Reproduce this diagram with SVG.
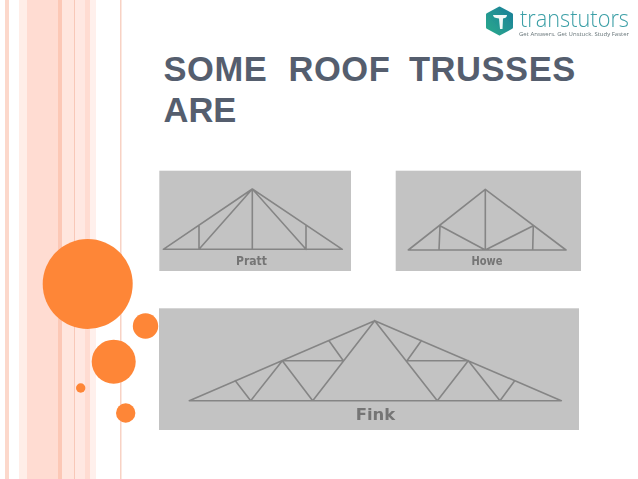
<svg xmlns="http://www.w3.org/2000/svg" width="638" height="479" viewBox="0 0 638 479">
<style>
.t{fill:none;stroke:#858585;stroke-width:1.6;stroke-linecap:round;stroke-linejoin:round}
.p{fill:#c3c3c3}
.l{font-family:"DejaVu Sans",sans-serif;font-weight:700;fill:#747474;text-anchor:middle}
.h{font-family:"Liberation Sans",Arial,sans-serif;font-weight:700;font-size:34.5px;fill:#555e6e}
.c{fill:#fe8637}
</style>
<defs>
<filter id="b" x="-5%" y="-5%" width="110%" height="110%"><feGaussianBlur stdDeviation="0.5"/></filter>
<filter id="s" x="-5%" y="-5%" width="110%" height="110%"><feGaussianBlur stdDeviation="0.35"/></filter>
<linearGradient id="g" x1="0" y1="1" x2="1" y2="0"><stop offset="0" stop-color="#2aa98c"/><stop offset="1" stop-color="#1b7f99"/></linearGradient>
</defs>
<rect width="638" height="479" fill="#fff"/>
<g id="stripes">
<rect x="5" width="4" height="479" fill="#fcd8cb"/>
<rect x="19" width="8" height="479" fill="#ffeee8"/>
<rect x="27" width="31" height="479" fill="#ffdcd2"/>
<rect x="58" width="4" height="479" fill="#fcc8b6"/>
<rect x="62" width="12" height="479" fill="#ffe6de"/>
<rect x="74" width="1.2" height="479" fill="#f8c8b8"/>
<rect x="75" width="10" height="479" fill="#ffe8e2"/>
<rect x="85" width="5" height="479" fill="#ffdcd2"/>
<rect x="90" width="6" height="479" fill="#fff0ec"/>
<rect x="120" width="1.5" height="479" fill="#f8d2c4"/>
</g>
<g id="circles">
<circle class="c" cx="87.7" cy="284" r="45"/>
<circle class="c" cx="145.5" cy="326" r="12.7"/>
<circle class="c" cx="113.7" cy="361.7" r="22"/>
<circle class="c" cx="80.7" cy="388" r="4.7"/>
<circle class="c" cx="125.7" cy="413" r="9.7"/>
</g>
<g id="logo" filter="url(#s)">
<polygon points="499.5,8 511.5,14.500 511.5,27.500 499.5,34 487.5,27.500 487.5,14.500" fill="url(#g)" stroke="url(#g)" stroke-width="3" stroke-linejoin="round"/>
<path d="M493 15H507Q507 18 503 18.500L502.500 29H500L499 18.500Q493 18 493 15Z" fill="#f2f9f8"/>
<text x="520" y="27" font-family="Open Sans,sans-serif" font-size="23" font-weight="300" fill="#3b9fa6" textLength="109" lengthAdjust="spacingAndGlyphs">transtutors</text>
<text x="519" y="36" font-family="Open Sans,sans-serif" font-size="6" fill="#667478" textLength="110" lengthAdjust="spacingAndGlyphs">Get Answers. Get Unstuck. Study Faster</text>
</g>
<g id="title">
<text class="h" y="80.500" letter-spacing="0.55"><tspan x="163.500">SOME</tspan><tspan x="288.500">ROOF</tspan><tspan x="409">TRUSSES</tspan></text>
<text class="h" x="163.500" y="122">ARE</text>
</g>
<g id="pratt" filter="url(#b)">
<rect class="p" x="159.300" y="170.700" width="191.700" height="100.300"/>
<path class="t" d="M163.300 249.300L252.300 189L342.300 249.300ZM199 225.700V249.300L252.300 189V249.300M252.300 189L306 249.300V225"/>
<text class="l" x="251.500" y="264.500" font-size="12" textLength="31" lengthAdjust="spacingAndGlyphs">Pratt</text>
</g>
<g id="howe" filter="url(#b)">
<rect class="p" x="395.700" y="170.700" width="185.300" height="100.300"/>
<path class="t" d="M408.300 250L485.300 189.300L566 250ZM485.300 189.300V250M440 225.700L485.300 250L533.300 225.700M440 225.700L439 250M533.300 225.700L532.700 250"/>
<text class="l" x="487" y="264.500" font-size="12" textLength="31" lengthAdjust="spacingAndGlyphs">Howe</text>
</g>
<g id="fink" filter="url(#b)">
<rect class="p" x="159" y="308.300" width="420" height="121.700"/>
<path class="t" d="M189.300 400.700L374.700 320.700L561.300 400.700ZM235.300 380.700L250.700 400.700L282.300 360.700L312.700 400.700L374.700 320.700M282.300 360.700H343.300L329 340.700M374.700 320.700L437.300 400.700L468.300 360.700L500 400.700L514.700 380.700M407 360.700H468.300M421.300 340.700L407 360.700"/>
<text class="l" x="375.500" y="420" font-size="16" textLength="39.500" lengthAdjust="spacingAndGlyphs">Fink</text>
</g>
</svg>
